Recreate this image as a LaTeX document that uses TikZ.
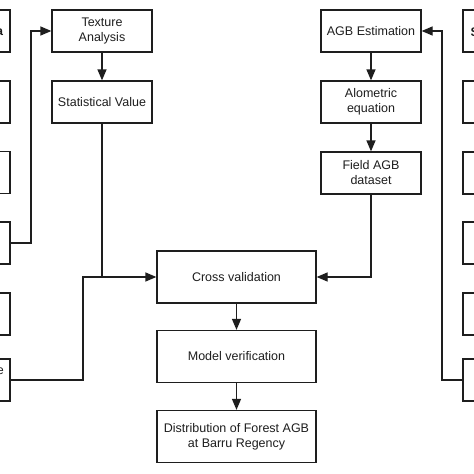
\documentclass[tikz,border=0pt]{standalone}
\usepackage{fontspec}
\setmainfont{Liberation Sans}
\usetikzlibrary{arrows.meta}
\definecolor{ink}{HTML}{1E1E1E}
\tikzset{
  box/.style={draw=ink, line width=1.3pt, minimum width=100pt, minimum height=42pt, inner sep=2pt, align=center, text=ink, font=\fontsize{12.5}{15}\selectfont},
  bigbox/.style={box, minimum width=159pt, minimum height=52pt},
  conn/.style={draw=ink, line width=1.3pt},
  arr/.style={conn, -{Triangle[length=11pt,width=9pt]}},
  part/.style={text=ink, font=\fontsize{12.5}{15}\selectfont, inner sep=0pt}
}
\begin{document}
\begin{tikzpicture}[x=1pt,y=-1pt]
\useasboundingbox (0,0) rectangle (474,474);
\fill[white] (0,0) rectangle (474,474);
\clip (0,0) rectangle (474,474);
% left partial column
\node[box] (L1) at (-40,31) {};
\node[box] (L2) at (-40,102) {};
\node[box] (L3) at (-40,172.5) {};
\node[box] (L4) at (-40,243) {};
\node[box] (L5) at (-40,314) {};
\node[box] (L6) at (-40,380) {};
\node[part, font=\fontsize{12.5}{15}\selectfont\bfseries] (ta) at (-0.5,32) {a};
\node[part] (te) at (0.3,371.5) {e};
% right partial column
\node[box] (R1) at (513,31) {};
\node[box] (R2) at (513,102) {};
\node[box] (R3) at (513,173) {};
\node[box] (R4) at (513,243) {};
\node[box] (R5) at (513,314) {};
\node[box] (R6) at (513,380) {};
\node[part, font=\fontsize{12.5}{15}\selectfont\bfseries] (ts) at (474.8,32) {S};
% left branch
\node[box] (tex) at (102,31) {Texture\\Analysis};
\node[box] (stat) at (102,102) {Statistical Value};
% right branch
\node[box] (agb) at (371,31) {AGB Estimation};
\node[box] (alo) at (371,102) {Alometric\\equation};
\node[box] (fld) at (371,173) {Field AGB\\dataset};
% centre
\node[bigbox] (cv) at (236.5,277) {Cross validation};
\node[bigbox] (mv) at (236.5,356.5) {Model verification};
\node[bigbox] (dist) at (236.5,436.5) {Distribution of Forest AGB\\at Barru Regency};
% bend coordinates
\coordinate (lb1) at (31,243);
\coordinate (lb2) at (83,380);
\coordinate (sj) at (stat.south |- cv.west);
\coordinate (rb1) at (442,380);
% connectors
\draw[arr] (L4.east) -- (lb1) |- (tex.west);
\draw[arr] (tex.south) -- (stat.north);
\draw[conn] (stat.south) -- (sj);
\draw[arr] (L6.east) -- (lb2) |- (cv.west);
\draw[arr] (agb.south) -- (alo.north);
\draw[arr] (alo.south) -- (fld.north);
\draw[arr] (fld.south) |- (cv.east);
\draw[arr] (R6.west) -- (rb1) |- (agb.east);
\draw[arr] (cv.south) -- (mv.north);
\draw[arr] (mv.south) -- (dist.north);
\end{tikzpicture}
\end{document}
